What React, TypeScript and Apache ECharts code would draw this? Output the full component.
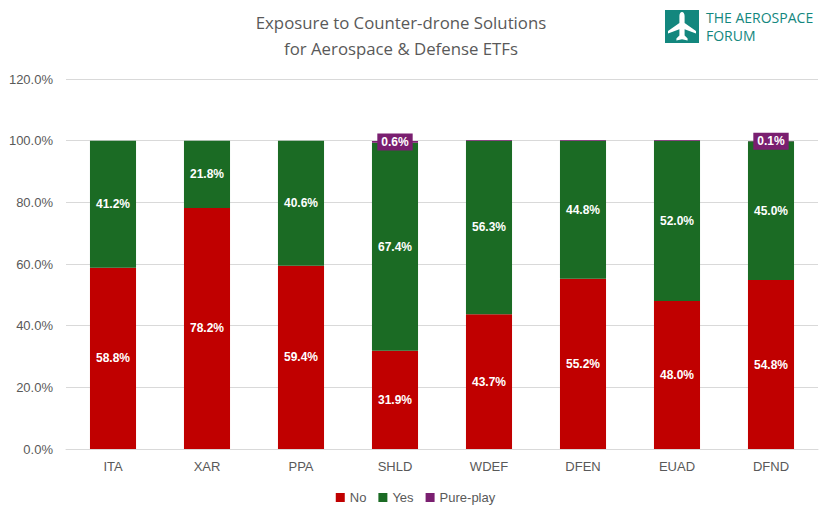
import { useEffect, useRef } from 'react';
import * as echarts from 'echarts';

const tickers = ['ITA', 'XAR', 'PPA', 'SHLD', 'WDEF', 'DFEN', 'EUAD', 'DFND'];
const noPct = [58.8, 78.2, 59.4, 31.9, 43.7, 55.2, 48.0, 54.8];
const yesPct = [41.2, 21.8, 40.6, 67.4, 56.3, 44.8, 52.0, 45.0];
// WDEF / DFEN / EUAD show only a thin unlabelled sliver
const purePct = [0, 0, 0, 0.6, 0.2, 0.2, 0.2, 0.1];
const pureLabelled = [false, false, false, true, false, false, false, true];

const RED = '#C00000';
const GREEN = '#1B6B24';
const PURPLE = '#7A1F70';
const TEAL = '#13877E';
const GREY = '#595959';

const PLANE =
  'M17 2 C18.6 2 19.6 4 19.6 6 L19.6 13 L31 21 L31 23.6 L19.6 19.2 L19.6 25.5 L22.6 28.4 L22.6 30.6 L17 29.2 L11.4 30.6 L11.4 28.4 L14.4 25.5 L14.4 19.2 L3 23.6 L3 21 L14.4 13 L14.4 6 C14.4 4 15.4 2 17 2 Z';
echarts.graphic.registerShape('plane', echarts.graphic.extendPath(PLANE, {}));

const pctLabel = (p: any) => Number(p.value).toFixed(1) + '%';

export default function App() {
  const ref = useRef<HTMLDivElement>(null);

  useEffect(() => {
    document.body.style.margin = '0';
    const chart = echarts.init(ref.current!, null, { renderer: 'svg' });

    const labelStyle = {
      show: true,
      position: 'inside',
      color: '#fff',
      fontWeight: 'bold',
      fontSize: 12,
      fontFamily: '"Liberation Sans", Arial, sans-serif',
      formatter: pctLabel,
    };

    chart.setOption({
      animation: false,
      textStyle: { fontFamily: '"Liberation Sans", Arial, sans-serif' },
      graphic: [
        {
          type: 'text',
          x: 401,
          y: 9,
          style: {
            text: 'Exposure to Counter-drone Solutions\nfor Aerospace & Defense ETFs',
            textAlign: 'center',
            fill: GREY,
            font: '16.8px "Open Sans", sans-serif',
            lineHeight: 26,
          },
        },
        { type: 'rect', shape: { x: 665, y: 10, width: 34, height: 33 }, style: { fill: TEAL } },
        { type: 'plane', x: 665, y: 10, style: { fill: '#fff' } },
        {
          type: 'text',
          x: 706,
          y: 17,
          style: {
            text: 'THE AEROSPACE',
            fill: TEAL,
            font: '14px "Open Sans", sans-serif',
            verticalAlign: 'middle',
          },
        },
        {
          type: 'text',
          x: 706,
          y: 35,
          style: {
            text: 'FORUM',
            fill: TEAL,
            font: '14px "Open Sans", sans-serif',
            verticalAlign: 'middle',
          },
        },
      ],
      legend: {
        bottom: 9,
        left: 'center',
        itemWidth: 9,
        itemHeight: 9,
        itemGap: 12,
        icon: 'rect',
        textStyle: { color: GREY, fontSize: 13 },
        data: ['No', 'Yes', 'Pure-play'],
      },
      grid: { left: 66, right: 13, top: 79, bottom: 69, containLabel: false },
      xAxis: {
        type: 'category',
        data: tickers,
        axisTick: { show: false },
        axisLine: { lineStyle: { color: '#d9d9d9' } },
        axisLabel: { color: GREY, fontSize: 13, margin: 11 },
      },
      yAxis: {
        type: 'value',
        min: 0,
        max: 120,
        interval: 20,
        axisLabel: {
          color: GREY,
          fontSize: 13,
          margin: 13,
          formatter: (v: number) => v.toFixed(1) + '%',
        },
        splitLine: { lineStyle: { color: '#d9d9d9' } },
      },
      series: [
        {
          name: 'No',
          type: 'bar',
          stack: 'total',
          barWidth: '49%',
          data: noPct,
          itemStyle: { color: RED },
          label: labelStyle,
        },
        {
          name: 'Yes',
          type: 'bar',
          stack: 'total',
          data: yesPct,
          itemStyle: { color: GREEN },
          label: labelStyle,
        },
        {
          name: 'Pure-play',
          type: 'bar',
          stack: 'total',
          itemStyle: { color: PURPLE },
          data: purePct.map((v, i) => ({
            value: v,
            label: pureLabelled[i]
              ? {
                  ...labelStyle,
                  backgroundColor: PURPLE,
                  padding: [3, 4, 2, 4],
                }
              : { show: false },
          })),
        },
      ],
    });

    return () => chart.dispose();
  }, []);

  return <div ref={ref} style={{ width: 831, height: 518 }} />;
}
